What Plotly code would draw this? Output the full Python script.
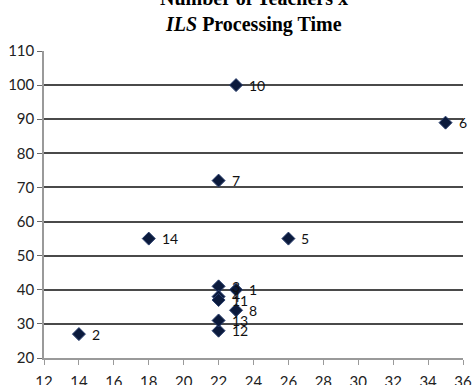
import plotly.graph_objects as go

labels = ["1", "2", "3", "4", "5", "6", "7", "8", "10", "11", "12", "13", "14"]
teachers = [23, 14, 22, 22, 26, 35, 22, 23, 23, 22, 22, 22, 18]
ils_time = [40, 27, 41, 38, 55, 89, 72, 34, 100, 37, 28, 31, 55]

x_ticks = list(range(12, 37, 2))
y_ticks = list(range(20, 111, 10))

fig = go.Figure()
fig.add_trace(go.Scatter(
    x=teachers, y=ils_time, mode="markers",
    marker=dict(symbol="diamond", size=10, color="#0b1a3c",
                line=dict(width=1, color="#2a3f6e")),
    hoverinfo="skip", showlegend=False, cliponaxis=False,
))

for lab, xv, yv in zip(labels, teachers, ils_time):
    fig.add_annotation(x=xv, y=yv, text=lab, showarrow=False,
                       xanchor="left", yanchor="middle", xshift=11, yshift=0,
                       font=dict(family="Lato", size=14, color="#111111"))

fig.add_annotation(
    x=0.5, y=1.1725, xref="paper", yref="paper", xanchor="center", yanchor="middle",
    text="<b>Number of Teachers x</b>",
    showarrow=False, font=dict(family="Liberation Serif", size=20, color="#000000"),
)
fig.add_annotation(
    x=0.5, y=1.0879, xref="paper", yref="paper", xanchor="center", yanchor="middle",
    text="<b><i>ILS</i> Processing Time</b>",
    showarrow=False, font=dict(family="Liberation Serif", size=20, color="#000000"),
)

fig.update_layout(
    width=474, height=385,
    margin=dict(l=44, r=11, t=51, b=27),
    plot_bgcolor="white", paper_bgcolor="white",
    xaxis=dict(range=[12, 36], tickvals=x_ticks, showgrid=False, zeroline=False,
               automargin=False,
               showline=True, linecolor="#9a9a9a", linewidth=1.5,
               ticks="outside", ticklen=5, tickcolor="#9a9a9a",
               ticklabelstandoff=4,
               tickfont=dict(family="Lato", size=15, color="#222222")),
    yaxis=dict(range=[20, 110], tickvals=y_ticks, showgrid=True, gridcolor="#4a4a4a",
               gridwidth=1.5, zeroline=False, automargin=False,
               showline=True, linecolor="#9a9a9a", linewidth=1.5,
               ticks="outside", ticklen=5, tickcolor="#6a6a6a",
               tickfont=dict(family="Lato", size=15, color="#222222")),
)

fig.write_html("out.html", config={"displayModeBar": False},
               post_script="document.body.style.margin='0';")
